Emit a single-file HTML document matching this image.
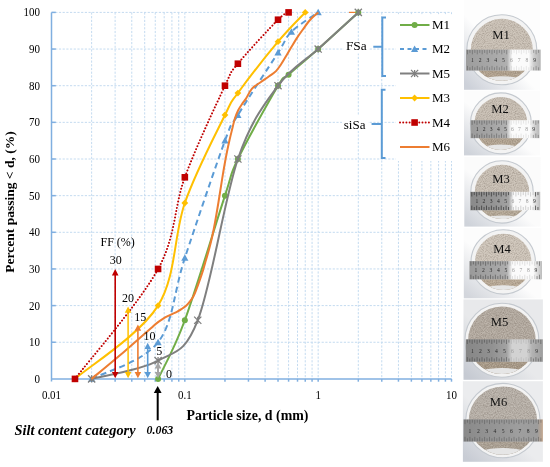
<!DOCTYPE html>
<html><head><meta charset="utf-8"><title>Particle size distribution</title>
<style>html,body{margin:0;padding:0;background:#fff;width:550px;height:467px;overflow:hidden}svg{display:block}</style>
</head><body>
<svg width="550" height="467" viewBox="0 0 550 467">
<defs>
<marker id="ar" viewBox="0 0 10 10" refX="9" refY="5" markerWidth="3.2" markerHeight="3.2" orient="auto-start-reverse"><path d="M0,0 L10,5 L0,10 z" fill="context-stroke"/></marker>
<linearGradient id="rul" x1="0" x2="1" y1="0" y2="0">
<stop offset="0" stop-color="#8d8d8d"/><stop offset="0.35" stop-color="#9a9a9a"/><stop offset="0.55" stop-color="#b4b4b4"/><stop offset="0.62" stop-color="#f4f4f4"/><stop offset="0.85" stop-color="#fafafa"/><stop offset="0.92" stop-color="#c8c8c8"/><stop offset="1" stop-color="#a8a8a8"/></linearGradient>
<linearGradient id="bg" x1="0" x2="0" y1="0" y2="1"><stop offset="0" stop-color="#f6f6f6"/><stop offset="1" stop-color="#dcdcdc"/></linearGradient>
<filter id="grD" x="0" y="0" width="1" height="1" color-interpolation-filters="sRGB"><feTurbulence type="fractalNoise" baseFrequency="0.9" numOctaves="2" seed="7"/><feColorMatrix type="matrix" values="0 0 0 0 0.35  0 0 0 0 0.3  0 0 0 0 0.26  0.7 0 0 0 -0.32"/></filter>
<filter id="grL" x="0" y="0" width="1" height="1" color-interpolation-filters="sRGB"><feTurbulence type="fractalNoise" baseFrequency="0.9" numOctaves="2" seed="7"/><feColorMatrix type="matrix" values="0 0 0 0 1  0 0 0 0 0.98  0 0 0 0 0.95  -0.7 0 0 0 0.32"/></filter>
<radialGradient id="sand" cx="0.5" cy="0.45" r="0.55"><stop offset="0" stop-color="#bdb4a8"/><stop offset="1" stop-color="#aba296"/></radialGradient>
</defs>
<g stroke="#C4DBF0" stroke-width="1" stroke-dasharray="2.2 1.5" fill="none"><line x1="91.64" y1="12.4" x2="91.64" y2="378.9"/><line x1="115.12" y1="12.4" x2="115.12" y2="378.9"/><line x1="131.77" y1="12.4" x2="131.77" y2="378.9"/><line x1="144.7" y1="12.4" x2="144.7" y2="378.9"/><line x1="155.25" y1="12.4" x2="155.25" y2="378.9"/><line x1="164.18" y1="12.4" x2="164.18" y2="378.9"/><line x1="171.91" y1="12.4" x2="171.91" y2="378.9"/><line x1="178.73" y1="12.4" x2="178.73" y2="378.9"/><line x1="184.83" y1="12.4" x2="184.83" y2="378.9"/><line x1="224.97" y1="12.4" x2="224.97" y2="378.9"/><line x1="248.45" y1="12.4" x2="248.45" y2="378.9"/><line x1="265.11" y1="12.4" x2="265.11" y2="378.9"/><line x1="278.03" y1="12.4" x2="278.03" y2="378.9"/><line x1="288.59" y1="12.4" x2="288.59" y2="378.9"/><line x1="297.51" y1="12.4" x2="297.51" y2="378.9"/><line x1="305.24" y1="12.4" x2="305.24" y2="378.9"/><line x1="312.07" y1="12.4" x2="312.07" y2="378.9"/><line x1="318.17" y1="12.4" x2="318.17" y2="378.9"/><line x1="358.3" y1="12.4" x2="358.3" y2="378.9"/><line x1="381.78" y1="12.4" x2="381.78" y2="378.9"/><line x1="398.44" y1="12.4" x2="398.44" y2="378.9"/><line x1="411.36" y1="12.4" x2="411.36" y2="378.9"/><line x1="421.92" y1="12.4" x2="421.92" y2="378.9"/><line x1="430.85" y1="12.4" x2="430.85" y2="378.9"/><line x1="438.58" y1="12.4" x2="438.58" y2="378.9"/><line x1="445.4" y1="12.4" x2="445.4" y2="378.9"/><line x1="451.5" y1="12.4" x2="451.5" y2="378.9"/><line x1="51.5" y1="342.25" x2="451.5" y2="342.25"/><line x1="51.5" y1="305.6" x2="451.5" y2="305.6"/><line x1="51.5" y1="268.95" x2="451.5" y2="268.95"/><line x1="51.5" y1="232.3" x2="451.5" y2="232.3"/><line x1="51.5" y1="195.65" x2="451.5" y2="195.65"/><line x1="51.5" y1="159" x2="451.5" y2="159"/><line x1="51.5" y1="122.35" x2="451.5" y2="122.35"/><line x1="51.5" y1="85.7" x2="451.5" y2="85.7"/><line x1="51.5" y1="49.05" x2="451.5" y2="49.05"/><line x1="51.5" y1="12.4" x2="451.5" y2="12.4"/></g>
<g stroke="#80AFE0" stroke-width="1.5" fill="none"><line x1="51.5" y1="12.4" x2="51.5" y2="381.6"/><line x1="51.5" y1="378.9" x2="451.5" y2="378.9"/><line x1="51.5" y1="342.25" x2="55.8" y2="342.25"/><line x1="51.5" y1="305.6" x2="55.8" y2="305.6"/><line x1="51.5" y1="268.95" x2="55.8" y2="268.95"/><line x1="51.5" y1="232.3" x2="55.8" y2="232.3"/><line x1="51.5" y1="195.65" x2="55.8" y2="195.65"/><line x1="51.5" y1="159" x2="55.8" y2="159"/><line x1="51.5" y1="122.35" x2="55.8" y2="122.35"/><line x1="51.5" y1="85.7" x2="55.8" y2="85.7"/><line x1="51.5" y1="49.05" x2="55.8" y2="49.05"/><line x1="51.5" y1="12.4" x2="55.8" y2="12.4"/><line x1="91.64" y1="378.9" x2="91.64" y2="381.7"/><line x1="115.12" y1="378.9" x2="115.12" y2="381.7"/><line x1="131.77" y1="378.9" x2="131.77" y2="381.7"/><line x1="144.7" y1="378.9" x2="144.7" y2="381.7"/><line x1="155.25" y1="378.9" x2="155.25" y2="381.7"/><line x1="164.18" y1="378.9" x2="164.18" y2="381.7"/><line x1="171.91" y1="378.9" x2="171.91" y2="381.7"/><line x1="178.73" y1="378.9" x2="178.73" y2="381.7"/><line x1="184.83" y1="378.9" x2="184.83" y2="381.7"/><line x1="224.97" y1="378.9" x2="224.97" y2="381.7"/><line x1="248.45" y1="378.9" x2="248.45" y2="381.7"/><line x1="265.11" y1="378.9" x2="265.11" y2="381.7"/><line x1="278.03" y1="378.9" x2="278.03" y2="381.7"/><line x1="288.59" y1="378.9" x2="288.59" y2="381.7"/><line x1="297.51" y1="378.9" x2="297.51" y2="381.7"/><line x1="305.24" y1="378.9" x2="305.24" y2="381.7"/><line x1="312.07" y1="378.9" x2="312.07" y2="381.7"/><line x1="318.17" y1="378.9" x2="318.17" y2="381.7"/><line x1="358.3" y1="378.9" x2="358.3" y2="381.7"/><line x1="381.78" y1="378.9" x2="381.78" y2="381.7"/><line x1="398.44" y1="378.9" x2="398.44" y2="381.7"/><line x1="411.36" y1="378.9" x2="411.36" y2="381.7"/><line x1="421.92" y1="378.9" x2="421.92" y2="381.7"/><line x1="430.85" y1="378.9" x2="430.85" y2="381.7"/><line x1="438.58" y1="378.9" x2="438.58" y2="381.7"/><line x1="445.4" y1="378.9" x2="445.4" y2="381.7"/><line x1="451.5" y1="378.9" x2="451.5" y2="381.7"/></g>
<g font-family="Liberation Serif, serif" font-size="11" fill="#000"><text transform="translate(40,382.8) scale(1,1.12)" text-anchor="end">0</text><text transform="translate(40,346.15) scale(1,1.12)" text-anchor="end">10</text><text transform="translate(40,309.5) scale(1,1.12)" text-anchor="end">20</text><text transform="translate(40,272.85) scale(1,1.12)" text-anchor="end">30</text><text transform="translate(40,236.2) scale(1,1.12)" text-anchor="end">40</text><text transform="translate(40,199.55) scale(1,1.12)" text-anchor="end">50</text><text transform="translate(40,162.9) scale(1,1.12)" text-anchor="end">60</text><text transform="translate(40,126.25) scale(1,1.12)" text-anchor="end">70</text><text transform="translate(40,89.6) scale(1,1.12)" text-anchor="end">80</text><text transform="translate(40,52.95) scale(1,1.12)" text-anchor="end">90</text><text transform="translate(40,16.3) scale(1,1.12)" text-anchor="end">100</text><text transform="translate(51.5,398.8) scale(1,1.12)" text-anchor="middle">0.01</text><text transform="translate(184.83,398.8) scale(1,1.12)" text-anchor="middle">0.1</text><text transform="translate(318.17,398.8) scale(1,1.12)" text-anchor="middle">1</text><text transform="translate(451.5,398.8) scale(1,1.12)" text-anchor="middle">10</text></g>
<text x="247.5" y="419.7" text-anchor="middle" font-family="Liberation Serif, serif" font-size="13.6" font-weight="bold" textLength="122" lengthAdjust="spacingAndGlyphs">Particle size, d (mm)</text>
<text transform="translate(13.6,202) rotate(-90)" text-anchor="middle" font-family="Liberation Serif, serif" font-size="13.5" font-weight="bold">Percent passing &lt; d, (%)</text>
<rect x="396" y="14.2" width="58" height="146.8" fill="#fff"/>
<rect x="344" y="41" width="25" height="12.5" fill="#fff"/><rect x="342" y="116" width="26" height="15" fill="#fff"/>
<line x1="349" y1="12.4" x2="359" y2="12.4" stroke="#ED7D31" stroke-width="1.2"/>
<path d="M158.08,378.9 C162.54,369.13 173.68,350.8 184.83,320.26 C195.98,289.72 216.13,222.53 224.97,195.65 C233.81,168.77 229.05,177.32 237.89,159 C246.73,140.67 269.58,99.75 278.03,85.7 C286.48,71.65 281.9,80.81 288.59,74.7 C295.28,68.6 306.55,59.43 318.17,49.05 C329.79,38.67 351.61,18.51 358.3,12.4" fill="none" stroke="#70AD47" stroke-width="2" stroke-linejoin="round" />
<circle cx="158.08" cy="378.9" r="3.0" fill="#70AD47"/><circle cx="184.83" cy="320.26" r="3.0" fill="#70AD47"/><circle cx="224.97" cy="195.65" r="3.0" fill="#70AD47"/><circle cx="237.89" cy="159" r="3.0" fill="#70AD47"/><circle cx="278.03" cy="85.7" r="3.0" fill="#70AD47"/><circle cx="288.59" cy="74.7" r="3.0" fill="#70AD47"/><circle cx="318.17" cy="49.05" r="3.0" fill="#70AD47"/><circle cx="358.3" cy="12.4" r="3.0" fill="#70AD47"/>
<path d="M91.64,378.9 C102.71,372.79 142.55,362.41 158.08,342.25 C173.61,322.09 173.68,291.55 184.83,257.95 C195.98,224.36 216.13,164.5 224.97,140.67 C233.81,116.85 229.05,129.68 237.89,115.02 C246.73,100.36 269.11,66.58 278.03,52.71 C286.95,38.85 284.72,38.54 291.41,31.82 C298.1,25.11 313.71,15.64 318.17,12.4" fill="none" stroke="#5B9BD5" stroke-width="2" stroke-linejoin="round" stroke-dasharray="6 4"/>
<path d="M91.64,375.3 L95.24,381.78 L88.04,381.78z" fill="#5B9BD5"/><path d="M158.08,338.65 L161.68,345.13 L154.48,345.13z" fill="#5B9BD5"/><path d="M184.83,254.35 L188.43,260.83 L181.23,260.83z" fill="#5B9BD5"/><path d="M224.97,137.07 L228.57,143.55 L221.37,143.55z" fill="#5B9BD5"/><path d="M237.89,111.42 L241.49,117.9 L234.29,117.9z" fill="#5B9BD5"/><path d="M278.03,49.11 L281.63,55.59 L274.43,55.59z" fill="#5B9BD5"/><path d="M291.41,28.22 L295.01,34.7 L287.81,34.7z" fill="#5B9BD5"/><path d="M318.17,8.8 L321.77,15.28 L314.57,15.28z" fill="#5B9BD5"/>
<path d="M91.64,378.9 C102.71,375.85 140.39,370.35 158.08,360.57 C175.76,350.8 184.45,353.86 197.75,320.26 C211.06,286.66 224.51,198.09 237.89,159 C251.27,119.91 264.65,104.02 278.03,85.7 C291.41,67.37 304.79,61.27 318.17,49.05 C331.55,36.83 351.61,18.51 358.3,12.4" fill="none" stroke="#7F7F7F" stroke-width="2" stroke-linejoin="round" />
<path d="M88.04,375.3 L95.24,382.5 M95.24,375.3 L88.04,382.5 M91.64,375.3 L91.64,382.5" stroke="#7F7F7F" stroke-width="1.3" fill="none"/><path d="M154.48,356.97 L161.68,364.18 M161.68,356.97 L154.48,364.18 M158.08,356.97 L158.08,364.18" stroke="#7F7F7F" stroke-width="1.3" fill="none"/><path d="M194.15,316.66 L201.35,323.86 M201.35,316.66 L194.15,323.86 M197.75,316.66 L197.75,323.86" stroke="#7F7F7F" stroke-width="1.3" fill="none"/><path d="M234.29,155.4 L241.49,162.6 M241.49,155.4 L234.29,162.6 M237.89,155.4 L237.89,162.6" stroke="#7F7F7F" stroke-width="1.3" fill="none"/><path d="M274.43,82.1 L281.63,89.3 M281.63,82.1 L274.43,89.3 M278.03,82.1 L278.03,89.3" stroke="#7F7F7F" stroke-width="1.3" fill="none"/><path d="M314.57,45.45 L321.77,52.65 M321.77,45.45 L314.57,52.65 M318.17,45.45 L318.17,52.65" stroke="#7F7F7F" stroke-width="1.3" fill="none"/><path d="M354.7,8.8 L361.9,16 M361.9,8.8 L354.7,16 M358.3,8.8 L358.3,16" stroke="#7F7F7F" stroke-width="1.3" fill="none"/>
<path d="M74.98,378.9 C88.83,366.68 139.77,334.92 158.08,305.6 C176.39,276.28 173.68,234.74 184.83,202.98 C195.98,171.22 216.13,133.34 224.97,115.02 C233.81,96.69 229.05,105.25 237.89,93.03 C246.73,80.81 266.8,55.16 278.03,41.72 C289.25,28.28 300.71,17.29 305.24,12.4" fill="none" stroke="#FFC000" stroke-width="2" stroke-linejoin="round" />
<path d="M74.98,375.5 L78.38,378.9 L74.98,382.3 L71.58,378.9z" fill="#FFC000"/><path d="M158.08,302.2 L161.48,305.6 L158.08,309 L154.68,305.6z" fill="#FFC000"/><path d="M184.83,199.58 L188.23,202.98 L184.83,206.38 L181.43,202.98z" fill="#FFC000"/><path d="M224.97,111.62 L228.37,115.02 L224.97,118.42 L221.57,115.02z" fill="#FFC000"/><path d="M237.89,89.63 L241.29,93.03 L237.89,96.43 L234.49,93.03z" fill="#FFC000"/><path d="M278.03,38.32 L281.43,41.72 L278.03,45.12 L274.63,41.72z" fill="#FFC000"/><path d="M305.24,9 L308.64,12.4 L305.24,15.8 L301.84,12.4z" fill="#FFC000"/>
<path d="M74.98,378.9 C88.83,360.57 139.77,302.55 158.08,268.95 C176.39,235.35 173.68,207.87 184.83,177.32 C195.98,146.78 216.13,104.64 224.97,85.7 C233.81,66.76 229.05,74.7 237.89,63.71 C246.73,52.71 269.58,28.28 278.03,19.73 C286.48,11.18 286.83,13.62 288.59,12.4" fill="none" stroke="#C00000" stroke-width="2" stroke-linejoin="round" stroke-dasharray="0.01 3.25" stroke-linecap="round"/>
<rect x="71.68" y="375.6" width="6.6" height="6.6" fill="#C00000"/><rect x="154.78" y="265.65" width="6.6" height="6.6" fill="#C00000"/><rect x="181.53" y="174.02" width="6.6" height="6.6" fill="#C00000"/><rect x="221.67" y="82.4" width="6.6" height="6.6" fill="#C00000"/><rect x="234.59" y="60.41" width="6.6" height="6.6" fill="#C00000"/><rect x="274.73" y="16.43" width="6.6" height="6.6" fill="#C00000"/><rect x="285.29" y="9.1" width="6.6" height="6.6" fill="#C00000"/>
<path d="M91.6,378.9 C97.17,374.25 115.27,359.3 125,351 C134.73,342.7 145.08,333.43 150,329.1 C154.92,324.77 152.98,326.28 154.5,325 C156.02,323.72 157.58,322.5 159.1,321.4 C160.62,320.3 162.08,319.32 163.6,318.4 C165.12,317.48 166.68,316.67 168.2,315.9 C169.72,315.13 171.18,314.52 172.7,313.8 C174.22,313.08 175.78,312.42 177.3,311.6 C178.82,310.78 180.28,309.92 181.8,308.9 C183.32,307.88 185.03,306.75 186.4,305.5 C187.77,304.25 188.8,302.98 190,301.4 C191.2,299.82 192.57,297.92 193.6,296 C194.63,294.08 195.13,292.67 196.2,289.9 C197.27,287.13 198.87,282.65 200,279.4 C201.13,276.15 202,273.63 203,270.4 C204,267.17 205,263.48 206,260 C207,256.52 208,253.25 209,249.5 C210,245.75 211,242 212,237.5 C213,233 213.92,228.42 215,222.5 C216.08,216.58 217.33,209.12 218.5,202 C219.67,194.88 221,185.97 222,179.8 C223,173.63 223.65,169.75 224.5,165 C225.35,160.25 226.23,155.58 227.1,151.3 C227.97,147.02 228.85,143 229.7,139.3 C230.55,135.6 231.35,132.52 232.2,129.1 C233.05,125.68 233.8,121.93 234.8,118.8 C235.8,115.67 236.92,112.87 238.2,110.3 C239.48,107.73 241.2,105.35 242.5,103.4 C243.8,101.45 244.42,101.07 246,98.6 C247.58,96.13 249.57,91.33 252,88.6 C254.43,85.87 257.75,84.25 260.6,82.2 C263.45,80.15 266.53,78.15 269.1,76.3 C271.67,74.45 274,73.1 276,71.1 C278,69.1 279.38,66.87 281.1,64.3 C282.82,61.73 284.58,58.57 286.3,55.7 C288.02,52.83 289.7,49.95 291.4,47.1 C293.1,44.25 294.65,41.45 296.5,38.6 C298.35,35.75 300.25,33.1 302.5,30 C304.75,26.9 307.37,22.93 310,20 C312.63,17.07 316.92,13.67 318.3,12.4" fill="none" stroke="#ED7D31" stroke-width="2" stroke-linejoin="round" />
<line x1="115.2" y1="372.4" x2="115.2" y2="274.9" stroke="#C00000" stroke-width="1.6"/><path d="M115.2,269.1 L118.5,275.4 L111.9,275.4z M115.2,378.2 L118.5,371.9 L111.9,371.9z" fill="#C00000"/>
<line x1="128.1" y1="372.4" x2="128.1" y2="312.2" stroke="#FFC000" stroke-width="1.5"/><path d="M128.1,306.4 L131.4,312.7 L124.8,312.7z M128.1,378.2 L131.4,371.9 L124.8,371.9z" fill="#FFC000"/>
<line x1="137.9" y1="372.4" x2="137.9" y2="330.22" stroke="#ED7D31" stroke-width="1.6"/><path d="M137.9,324.42 L141.2,330.72 L134.6,330.72z M137.9,378.2 L141.2,371.9 L134.6,371.9z" fill="#ED7D31"/>
<line x1="147.7" y1="372.4" x2="147.7" y2="348.55" stroke="#5B9BD5" stroke-width="1.6"/><path d="M147.7,342.75 L151,349.05 L144.4,349.05z M147.7,378.2 L151,371.9 L144.4,371.9z" fill="#5B9BD5"/>
<line x1="158.0" y1="372.4" x2="158.0" y2="367.88" stroke="#A5A5A5" stroke-width="2"/><path d="M158.0,362.07 L161.3,368.38 L154.7,368.38z M158.0,378.2 L161.3,371.9 L154.7,371.9z" fill="#A5A5A5"/>
<g font-family="Liberation Serif, serif" font-size="12" fill="#000"><text x="117.7" y="245.7" text-anchor="middle">FF (%)</text><text x="115.8" y="264" text-anchor="middle">30</text><text x="127.9" y="301.5" text-anchor="middle">20</text><text x="140.3" y="321" text-anchor="middle">15</text><text x="149.5" y="339.7" text-anchor="middle">10</text><text x="159.2" y="355.3" text-anchor="middle">5</text><text x="169" y="377.8" text-anchor="middle">0</text></g>
<line x1="157.7" y1="420.3" x2="157.7" y2="391" stroke="#000" stroke-width="2"/>
<path d="M157.7,386 L161.6,393 L153.8,393z" fill="#000"/>
<text transform="translate(14.5,434.6) scale(1,1.08)" font-family="Liberation Serif, serif" font-size="13.4" font-weight="bold" font-style="italic" textLength="121" lengthAdjust="spacingAndGlyphs">Silt content category</text>
<text transform="translate(146.6,433.6) scale(1,1.08)" font-family="Liberation Serif, serif" font-size="12.3" font-weight="bold" font-style="italic" textLength="26.6" lengthAdjust="spacingAndGlyphs">0.063</text>
<line x1="400" y1="25" x2="429.5" y2="25" stroke="#70AD47" stroke-width="2" /><circle cx="414.6" cy="25" r="3.0" fill="#70AD47"/><text x="432" y="29.3" font-family="Liberation Serif, serif" font-size="13">M1</text><line x1="400" y1="49" x2="429.5" y2="49" stroke="#5B9BD5" stroke-width="2" stroke-dasharray="4 3.5"/><path d="M414.6,45.4 L418.2,51.88 L411,51.88z" fill="#5B9BD5"/><text x="432" y="53.3" font-family="Liberation Serif, serif" font-size="13">M2</text><line x1="400" y1="73.5" x2="429.5" y2="73.5" stroke="#7F7F7F" stroke-width="2" /><path d="M411,69.9 L418.2,77.1 M418.2,69.9 L411,77.1 M414.6,69.9 L414.6,77.1" stroke="#7F7F7F" stroke-width="1.3" fill="none"/><text x="432" y="77.8" font-family="Liberation Serif, serif" font-size="13">M5</text><line x1="400" y1="98" x2="429.5" y2="98" stroke="#FFC000" stroke-width="2" /><path d="M414.6,94.6 L418,98 L414.6,101.4 L411.2,98z" fill="#FFC000"/><text x="432" y="102.3" font-family="Liberation Serif, serif" font-size="13">M3</text><line x1="400" y1="122.5" x2="429.5" y2="122.5" stroke="#C00000" stroke-width="2" stroke-dasharray="0.01 3.2" stroke-linecap="round"/><rect x="411.3" y="119.2" width="6.6" height="6.6" fill="#C00000"/><text x="432" y="126.8" font-family="Liberation Serif, serif" font-size="13">M4</text><line x1="400" y1="147" x2="429.5" y2="147" stroke="#ED7D31" stroke-width="2" /><text x="432" y="151.3" font-family="Liberation Serif, serif" font-size="13">M6</text>
<path d="M386,17.6 L382.3,17.6 L382.3,76 L386,76 M382.3,46.8 L373.3,46.8" stroke="#5B9BD5" stroke-width="2" fill="none"/>
<path d="M385.5,89.8 L381.8,89.8 L381.8,158 L385.5,158 M381.8,124.1 L371.6,124.1" stroke="#5B9BD5" stroke-width="2" fill="none"/>
<text x="356.3" y="49.8" text-anchor="middle" font-family="Liberation Serif, serif" font-size="13.5" textLength="20.8" lengthAdjust="spacingAndGlyphs">FSa</text>
<text x="354.6" y="129.2" text-anchor="middle" font-family="Liberation Serif, serif" font-size="13">siSa</text>
<defs><linearGradient id="bgM1" x1="0.85" x2="0.1" y1="0.15" y2="1"><stop offset="0" stop-color="#fdfdfd"/><stop offset="0.5" stop-color="#fdfdfd"/><stop offset="1" stop-color="#cdd1d9"/></linearGradient><linearGradient id="rgM1" x1="0" x2="1" y1="0" y2="0"><stop offset="0" stop-color="#9d9d9d"/><stop offset="0.35" stop-color="#a8a8a8"/><stop offset="0.55" stop-color="#b0b0b0"/><stop offset="0.62" stop-color="#fbfbfb"/><stop offset="0.84" stop-color="#fbfbfb"/><stop offset="0.91" stop-color="#cccccc"/><stop offset="1" stop-color="#b4b4b4"/></linearGradient><clipPath id="cpM1"><circle cx="501.8" cy="49.8" r="31"/></clipPath><linearGradient id="bgM2" x1="0.85" x2="0.1" y1="0.15" y2="1"><stop offset="0" stop-color="#fcfcfc"/><stop offset="0.5" stop-color="#fcfcfc"/><stop offset="1" stop-color="#cfd3da"/></linearGradient><linearGradient id="rgM2" x1="0" x2="1" y1="0" y2="0"><stop offset="0" stop-color="#9c9c9c"/><stop offset="0.33" stop-color="#a6a6a6"/><stop offset="0.52" stop-color="#b0b0b0"/><stop offset="0.59" stop-color="#fbfbfb"/><stop offset="0.86" stop-color="#fbfbfb"/><stop offset="0.93" stop-color="#d2d2d2"/><stop offset="1" stop-color="#b8b8b8"/></linearGradient><clipPath id="cpM2"><circle cx="500.9" cy="123.4" r="26.5"/></clipPath><linearGradient id="bgM3" x1="0.85" x2="0.1" y1="0.15" y2="1"><stop offset="0" stop-color="#fbfbfb"/><stop offset="0.5" stop-color="#fbfbfb"/><stop offset="1" stop-color="#cfd3da"/></linearGradient><linearGradient id="rgM3" x1="0" x2="1" y1="0" y2="0"><stop offset="0" stop-color="#8a8a8a"/><stop offset="0.35" stop-color="#959595"/><stop offset="0.55" stop-color="#a4a4a4"/><stop offset="0.62" stop-color="#fafafa"/><stop offset="0.88" stop-color="#fafafa"/><stop offset="0.95" stop-color="#d4d4d4"/><stop offset="1" stop-color="#bcbcbc"/></linearGradient><clipPath id="cpM3"><circle cx="502" cy="191.9" r="27.2"/></clipPath><linearGradient id="bgM4" x1="0.85" x2="0.1" y1="0.15" y2="1"><stop offset="0" stop-color="#fcfcfc"/><stop offset="0.5" stop-color="#fcfcfc"/><stop offset="1" stop-color="#d3d6dc"/></linearGradient><linearGradient id="rgM4" x1="0" x2="1" y1="0" y2="0"><stop offset="0" stop-color="#9a9a9a"/><stop offset="0.33" stop-color="#a4a4a4"/><stop offset="0.52" stop-color="#afafaf"/><stop offset="0.59" stop-color="#fbfbfb"/><stop offset="0.88" stop-color="#fbfbfb"/><stop offset="0.95" stop-color="#d6d6d6"/><stop offset="1" stop-color="#bcbcbc"/></linearGradient><clipPath id="cpM4"><circle cx="503.2" cy="261.9" r="28.2"/></clipPath><linearGradient id="bgM5" x1="0.85" x2="0.1" y1="0.15" y2="1"><stop offset="0" stop-color="#e8e9eb"/><stop offset="0.5" stop-color="#e8e9eb"/><stop offset="1" stop-color="#c6cad2"/></linearGradient><linearGradient id="rgM5" x1="0" x2="1" y1="0" y2="0"><stop offset="0" stop-color="#878787"/><stop offset="0.34" stop-color="#919191"/><stop offset="0.53" stop-color="#a2a2a2"/><stop offset="0.6" stop-color="#d2d2d2"/><stop offset="0.79" stop-color="#d2d2d2"/><stop offset="0.86" stop-color="#b2b2b2"/><stop offset="1" stop-color="#9e9e9e"/></linearGradient><clipPath id="cpM5"><circle cx="501.9" cy="340.2" r="33.8"/></clipPath><linearGradient id="bgM6" x1="0.85" x2="0.1" y1="0.15" y2="1"><stop offset="0" stop-color="#ebecee"/><stop offset="0.5" stop-color="#ebecee"/><stop offset="1" stop-color="#c8ccd4"/></linearGradient><linearGradient id="rgM6" x1="0" x2="1" y1="0" y2="0"><stop offset="0" stop-color="#8a8a8a"/><stop offset="0.4" stop-color="#959595"/><stop offset="0.7" stop-color="#9e9e9e"/><stop offset="0.93" stop-color="#9c9c9c"/><stop offset="1" stop-color="#c4a890"/></linearGradient><clipPath id="cpM6"><circle cx="502.9" cy="420.6" r="34.2"/></clipPath></defs>
<rect x="464" y="0" width="76" height="89.8" fill="url(#bgM1)"/><circle cx="501.8" cy="49.8" r="35" fill="#f3f3f3" stroke="#c4c9cf" stroke-width="1.1"/><g clip-path="url(#cpM1)"><rect x="466.8" y="14.799999999999997" width="70" height="70" fill="#c9c0b5"/><rect x="466.8" y="70.6" width="70" height="14.2" fill="#b2a390"/><rect x="466.8" y="14.799999999999997" width="70" height="70" filter="url(#grD)"/><rect x="466.8" y="14.799999999999997" width="70" height="70" filter="url(#grL)"/><ellipse cx="501.8" cy="84.8" rx="29.75" ry="8.52" fill="#e6e6e6"/></g><rect x="466" y="49.6" width="74.7" height="21" fill="url(#rgM1)"/><path d="M467.5,49.9v4.4M467.5,70.3v-4.4M469.95,49.9v3.0M469.95,70.3v-3.0M472.4,49.9v4.4M472.4,70.3v-4.4M474.85,49.9v3.0M474.85,70.3v-3.0M477.3,49.9v4.4M477.3,70.3v-4.4M479.75,49.9v3.0M479.75,70.3v-3.0M482.2,49.9v4.4M482.2,70.3v-4.4M484.65,49.9v3.0M484.65,70.3v-3.0M487.1,49.9v4.4M487.1,70.3v-4.4M489.55,49.9v3.0M489.55,70.3v-3.0M492,49.9v4.4M492,70.3v-4.4M494.45,49.9v3.0M494.45,70.3v-3.0M496.9,49.9v4.4M496.9,70.3v-4.4M499.35,49.9v3.0M499.35,70.3v-3.0M501.8,49.9v4.4M501.8,70.3v-4.4M504.25,49.9v3.0M504.25,70.3v-3.0M506.7,49.9v4.4M506.7,70.3v-4.4M533.65,49.9v3.0M533.65,70.3v-3.0M536.1,49.9v4.4M536.1,70.3v-4.4M538.55,49.9v3.0M538.55,70.3v-3.0" stroke="#2e2e2e" stroke-opacity="0.35" stroke-width="0.9" fill="none"/><path d="M509.15,49.9v3.0M509.15,70.3v-3.0M511.6,49.9v4.4M511.6,70.3v-4.4M514.05,49.9v3.0M514.05,70.3v-3.0M516.5,49.9v4.4M516.5,70.3v-4.4M518.95,49.9v3.0M518.95,70.3v-3.0M521.4,49.9v4.4M521.4,70.3v-4.4M523.85,49.9v3.0M523.85,70.3v-3.0M526.3,49.9v4.4M526.3,70.3v-4.4M528.75,49.9v3.0M528.75,70.3v-3.0M531.2,49.9v4.4M531.2,70.3v-4.4" stroke="#777" stroke-opacity="0.21" stroke-width="0.7" fill="none"/><g font-family="Liberation Serif, serif" font-size="5.6" text-anchor="middle"><text x="472.5" y="62.1" fill="#2a2a2a">1</text><text x="480.26" y="62.1" fill="#2a2a2a">2</text><text x="488.01" y="62.1" fill="#2a2a2a">3</text><text x="495.77" y="62.1" fill="#2a2a2a">4</text><text x="503.52" y="62.1" fill="#2a2a2a">5</text><text x="511.28" y="62.1" fill="#9a9a9a">6</text><text x="519.03" y="62.1" fill="#9a9a9a">7</text><text x="526.79" y="62.1" fill="#9a9a9a">8</text><text x="534.55" y="62.1" fill="#2a2a2a">9</text></g><text x="501" y="38.6" text-anchor="middle" font-family="Liberation Serif, serif" font-size="12.6" fill="#111">M1</text><rect x="464" y="90.8" width="76" height="64.6" fill="url(#bgM2)"/><circle cx="500.9" cy="123.4" r="30.5" fill="#f3f3f3" stroke="#c4c9cf" stroke-width="1.1"/><g clip-path="url(#cpM2)"><rect x="470.4" y="92.9" width="61.0" height="61.0" fill="#c7beb3"/><rect x="470.4" y="138.2" width="61.0" height="15.7" fill="#b2a492"/><rect x="470.4" y="92.9" width="61.0" height="61.0" filter="url(#grD)"/><rect x="470.4" y="92.9" width="61.0" height="61.0" filter="url(#grL)"/><ellipse cx="500.9" cy="153.9" rx="25.93" ry="9.42" fill="#e6e6e6"/></g><rect x="470.6" y="120.2" width="68.8" height="18" fill="url(#rgM2)"/><path d="M472.1,120.5v4.4M472.1,137.9v-4.4M474.55,120.5v3.0M474.55,137.9v-3.0M477,120.5v4.4M477,137.9v-4.4M479.45,120.5v3.0M479.45,137.9v-3.0M481.9,120.5v4.4M481.9,137.9v-4.4M484.35,120.5v3.0M484.35,137.9v-3.0M486.8,120.5v4.4M486.8,137.9v-4.4M489.25,120.5v3.0M489.25,137.9v-3.0M491.7,120.5v4.4M491.7,137.9v-4.4M494.15,120.5v3.0M494.15,137.9v-3.0M496.6,120.5v4.4M496.6,137.9v-4.4M499.05,120.5v3.0M499.05,137.9v-3.0M501.5,120.5v4.4M501.5,137.9v-4.4M503.95,120.5v3.0M503.95,137.9v-3.0M506.4,120.5v4.4M506.4,137.9v-4.4M533.35,120.5v3.0M533.35,137.9v-3.0M535.8,120.5v4.4M535.8,137.9v-4.4M538.25,120.5v3.0M538.25,137.9v-3.0" stroke="#2e2e2e" stroke-opacity="0.4" stroke-width="0.9" fill="none"/><path d="M508.85,120.5v3.0M508.85,137.9v-3.0M511.3,120.5v4.4M511.3,137.9v-4.4M513.75,120.5v3.0M513.75,137.9v-3.0M516.2,120.5v4.4M516.2,137.9v-4.4M518.65,120.5v3.0M518.65,137.9v-3.0M521.1,120.5v4.4M521.1,137.9v-4.4M523.55,120.5v3.0M523.55,137.9v-3.0M526,120.5v4.4M526,137.9v-4.4M528.45,120.5v3.0M528.45,137.9v-3.0M530.9,120.5v4.4M530.9,137.9v-4.4" stroke="#777" stroke-opacity="0.24" stroke-width="0.7" fill="none"/><g font-family="Liberation Serif, serif" font-size="5.6" text-anchor="middle"><text x="477.1" y="131.2" fill="#2a2a2a">1</text><text x="484.17" y="131.2" fill="#2a2a2a">2</text><text x="491.24" y="131.2" fill="#2a2a2a">3</text><text x="498.31" y="131.2" fill="#2a2a2a">4</text><text x="505.38" y="131.2" fill="#2a2a2a">5</text><text x="512.45" y="131.2" fill="#9a9a9a">6</text><text x="519.52" y="131.2" fill="#9a9a9a">7</text><text x="526.59" y="131.2" fill="#9a9a9a">8</text><text x="533.66" y="131.2" fill="#2a2a2a">9</text></g><text x="500" y="112.6" text-anchor="middle" font-family="Liberation Serif, serif" font-size="12.6" fill="#111">M2</text><rect x="464.3" y="157" width="76.3" height="69.6" fill="url(#bgM3)"/><circle cx="502" cy="191.9" r="31.2" fill="#f3f3f3" stroke="#c4c9cf" stroke-width="1.1"/><g clip-path="url(#cpM3)"><rect x="470.8" y="160.70000000000002" width="62.4" height="62.4" fill="#c8bfb4"/><rect x="470.8" y="210.3" width="62.4" height="12.8" fill="#b4a897"/><rect x="470.8" y="160.70000000000002" width="62.4" height="62.4" filter="url(#grD)"/><rect x="470.8" y="160.70000000000002" width="62.4" height="62.4" filter="url(#grL)"/><ellipse cx="502" cy="223.1" rx="26.52" ry="7.68" fill="#e6e6e6"/></g><rect x="470.3" y="191.8" width="69.9" height="18.5" fill="url(#rgM3)"/><path d="M471.8,192.1v4.4M471.8,210v-4.4M474.25,192.1v3.0M474.25,210v-3.0M476.7,192.1v4.4M476.7,210v-4.4M479.15,192.1v3.0M479.15,210v-3.0M481.6,192.1v4.4M481.6,210v-4.4M484.05,192.1v3.0M484.05,210v-3.0M486.5,192.1v4.4M486.5,210v-4.4M488.95,192.1v3.0M488.95,210v-3.0M491.4,192.1v4.4M491.4,210v-4.4M493.85,192.1v3.0M493.85,210v-3.0M496.3,192.1v4.4M496.3,210v-4.4M498.75,192.1v3.0M498.75,210v-3.0M501.2,192.1v4.4M501.2,210v-4.4M503.65,192.1v3.0M503.65,210v-3.0M506.1,192.1v4.4M506.1,210v-4.4M508.55,192.1v3.0M508.55,210v-3.0M535.5,192.1v4.4M535.5,210v-4.4M537.95,192.1v3.0M537.95,210v-3.0" stroke="#2e2e2e" stroke-opacity="0.75" stroke-width="0.9" fill="none"/><path d="M511,192.1v4.4M511,210v-4.4M513.45,192.1v3.0M513.45,210v-3.0M515.9,192.1v4.4M515.9,210v-4.4M518.35,192.1v3.0M518.35,210v-3.0M520.8,192.1v4.4M520.8,210v-4.4M523.25,192.1v3.0M523.25,210v-3.0M525.7,192.1v4.4M525.7,210v-4.4M528.15,192.1v3.0M528.15,210v-3.0M530.6,192.1v4.4M530.6,210v-4.4M533.05,192.1v3.0M533.05,210v-3.0" stroke="#777" stroke-opacity="0.44999999999999996" stroke-width="0.7" fill="none"/><g font-family="Liberation Serif, serif" font-size="5.6" text-anchor="middle"><text x="476.8" y="203.05" fill="#2a2a2a">1</text><text x="484" y="203.05" fill="#2a2a2a">2</text><text x="491.2" y="203.05" fill="#2a2a2a">3</text><text x="498.39" y="203.05" fill="#2a2a2a">4</text><text x="505.59" y="203.05" fill="#2a2a2a">5</text><text x="512.79" y="203.05" fill="#9a9a9a">6</text><text x="519.99" y="203.05" fill="#9a9a9a">7</text><text x="527.18" y="203.05" fill="#9a9a9a">8</text><text x="534.38" y="203.05" fill="#2a2a2a">9</text></g><text x="501.1" y="183.2" text-anchor="middle" font-family="Liberation Serif, serif" font-size="12.6" fill="#111">M3</text><rect x="463.8" y="228" width="77.6" height="70.3" fill="url(#bgM4)"/><circle cx="503.2" cy="261.9" r="32.2" fill="#f3f3f3" stroke="#c4c9cf" stroke-width="1.1"/><g clip-path="url(#cpM4)"><rect x="471.0" y="229.7" width="64.4" height="64.4" fill="#cdc4b9"/><rect x="471.0" y="279.4" width="64.4" height="14.7" fill="#b8a996"/><rect x="471.0" y="229.7" width="64.4" height="64.4" filter="url(#grD)"/><rect x="471.0" y="229.7" width="64.4" height="64.4" filter="url(#grL)"/><ellipse cx="503.2" cy="294.1" rx="27.37" ry="8.82" fill="#e6e6e6"/></g><rect x="469.4" y="261.1" width="72.6" height="18.3" fill="url(#rgM4)"/><path d="M470.9,261.4v4.4M470.9,279.1v-4.4M473.35,261.4v3.0M473.35,279.1v-3.0M475.8,261.4v4.4M475.8,279.1v-4.4M478.25,261.4v3.0M478.25,279.1v-3.0M480.7,261.4v4.4M480.7,279.1v-4.4M483.15,261.4v3.0M483.15,279.1v-3.0M485.6,261.4v4.4M485.6,279.1v-4.4M488.05,261.4v3.0M488.05,279.1v-3.0M490.5,261.4v4.4M490.5,279.1v-4.4M492.95,261.4v3.0M492.95,279.1v-3.0M495.4,261.4v4.4M495.4,279.1v-4.4M497.85,261.4v3.0M497.85,279.1v-3.0M500.3,261.4v4.4M500.3,279.1v-4.4M502.75,261.4v3.0M502.75,279.1v-3.0M505.2,261.4v4.4M505.2,279.1v-4.4M507.65,261.4v3.0M507.65,279.1v-3.0M537.05,261.4v3.0M537.05,279.1v-3.0M539.5,261.4v4.4M539.5,279.1v-4.4" stroke="#2e2e2e" stroke-opacity="0.5" stroke-width="0.9" fill="none"/><path d="M510.1,261.4v4.4M510.1,279.1v-4.4M512.55,261.4v3.0M512.55,279.1v-3.0M515,261.4v4.4M515,279.1v-4.4M517.45,261.4v3.0M517.45,279.1v-3.0M519.9,261.4v4.4M519.9,279.1v-4.4M522.35,261.4v3.0M522.35,279.1v-3.0M524.8,261.4v4.4M524.8,279.1v-4.4M527.25,261.4v3.0M527.25,279.1v-3.0M529.7,261.4v4.4M529.7,279.1v-4.4M532.15,261.4v3.0M532.15,279.1v-3.0M534.6,261.4v4.4M534.6,279.1v-4.4" stroke="#777" stroke-opacity="0.3" stroke-width="0.7" fill="none"/><g font-family="Liberation Serif, serif" font-size="5.6" text-anchor="middle"><text x="475.9" y="272.25" fill="#2a2a2a">1</text><text x="483.41" y="272.25" fill="#2a2a2a">2</text><text x="490.92" y="272.25" fill="#2a2a2a">3</text><text x="498.43" y="272.25" fill="#2a2a2a">4</text><text x="505.95" y="272.25" fill="#2a2a2a">5</text><text x="513.46" y="272.25" fill="#9a9a9a">6</text><text x="520.97" y="272.25" fill="#9a9a9a">7</text><text x="528.48" y="272.25" fill="#9a9a9a">8</text><text x="535.99" y="272.25" fill="#2a2a2a">9</text></g><text x="502" y="253.4" text-anchor="middle" font-family="Liberation Serif, serif" font-size="12.6" fill="#111">M4</text><rect x="463.5" y="299.4" width="79.4" height="80.4" fill="url(#bgM5)"/><circle cx="501.9" cy="340.2" r="37" fill="#f3f3f3" stroke="#c4c9cf" stroke-width="1.1"/><g clip-path="url(#cpM5)"><rect x="464.9" y="303.2" width="74" height="74" fill="#b3aaa0"/><rect x="464.9" y="361.8" width="74" height="15.4" fill="#a89a88"/><rect x="464.9" y="303.2" width="74" height="74" filter="url(#grD)"/><rect x="464.9" y="303.2" width="74" height="74" filter="url(#grL)"/><ellipse cx="501.9" cy="377.2" rx="31.45" ry="9.24" fill="#e6e6e6"/></g><rect x="465.8" y="339.3" width="77.1" height="22.5" fill="url(#rgM5)"/><path d="M467.3,339.6v4.4M467.3,361.5v-4.4M469.75,339.6v3.0M469.75,361.5v-3.0M472.2,339.6v4.4M472.2,361.5v-4.4M474.65,339.6v3.0M474.65,361.5v-3.0M477.1,339.6v4.4M477.1,361.5v-4.4M479.55,339.6v3.0M479.55,361.5v-3.0M482,339.6v4.4M482,361.5v-4.4M484.45,339.6v3.0M484.45,361.5v-3.0M486.9,339.6v4.4M486.9,361.5v-4.4M489.35,339.6v3.0M489.35,361.5v-3.0M491.8,339.6v4.4M491.8,361.5v-4.4M494.25,339.6v3.0M494.25,361.5v-3.0M496.7,339.6v4.4M496.7,361.5v-4.4M499.15,339.6v3.0M499.15,361.5v-3.0M501.6,339.6v4.4M501.6,361.5v-4.4M504.05,339.6v3.0M504.05,361.5v-3.0M506.5,339.6v4.4M506.5,361.5v-4.4M508.95,339.6v3.0M508.95,361.5v-3.0M531,339.6v4.4M531,361.5v-4.4M533.45,339.6v3.0M533.45,361.5v-3.0M535.9,339.6v4.4M535.9,361.5v-4.4M538.35,339.6v3.0M538.35,361.5v-3.0M540.8,339.6v4.4M540.8,361.5v-4.4" stroke="#2e2e2e" stroke-opacity="0.45" stroke-width="0.9" fill="none"/><path d="M511.4,339.6v4.4M511.4,361.5v-4.4M513.85,339.6v3.0M513.85,361.5v-3.0M516.3,339.6v4.4M516.3,361.5v-4.4M518.75,339.6v3.0M518.75,361.5v-3.0M521.2,339.6v4.4M521.2,361.5v-4.4M523.65,339.6v3.0M523.65,361.5v-3.0M526.1,339.6v4.4M526.1,361.5v-4.4M528.55,339.6v3.0M528.55,361.5v-3.0" stroke="#777" stroke-opacity="0.27" stroke-width="0.7" fill="none"/><g font-family="Liberation Serif, serif" font-size="5.6" text-anchor="middle"><text x="472.3" y="352.55" fill="#2a2a2a">1</text><text x="480.33" y="352.55" fill="#2a2a2a">2</text><text x="488.37" y="352.55" fill="#2a2a2a">3</text><text x="496.4" y="352.55" fill="#2a2a2a">4</text><text x="504.44" y="352.55" fill="#2a2a2a">5</text><text x="512.47" y="352.55" fill="#9a9a9a">6</text><text x="520.51" y="352.55" fill="#9a9a9a">7</text><text x="528.54" y="352.55" fill="#9a9a9a">8</text><text x="536.58" y="352.55" fill="#2a2a2a">9</text></g><text x="499.5" y="326.4" text-anchor="middle" font-family="Liberation Serif, serif" font-size="12.6" fill="#111">M5</text><rect x="462.9" y="381.2" width="80" height="80.6" fill="url(#bgM6)"/><circle cx="502.9" cy="420.6" r="37.2" fill="#f3f3f3" stroke="#c4c9cf" stroke-width="1.1"/><g clip-path="url(#cpM6)"><rect x="465.7" y="383.40000000000003" width="74.4" height="74.4" fill="#b7b0a8"/><rect x="465.7" y="441.6" width="74.4" height="16.2" fill="#aca295"/><rect x="465.7" y="383.40000000000003" width="74.4" height="74.4" filter="url(#grD)"/><rect x="465.7" y="383.40000000000003" width="74.4" height="74.4" filter="url(#grL)"/><ellipse cx="502.9" cy="457.8" rx="31.62" ry="9.72" fill="#e6e6e6"/></g><rect x="463.5" y="419.4" width="79.4" height="22.2" fill="url(#rgM6)"/><path d="M465,419.7v4.4M465,441.3v-4.4M467.45,419.7v3.0M467.45,441.3v-3.0M469.9,419.7v4.4M469.9,441.3v-4.4M472.35,419.7v3.0M472.35,441.3v-3.0M474.8,419.7v4.4M474.8,441.3v-4.4M477.25,419.7v3.0M477.25,441.3v-3.0M479.7,419.7v4.4M479.7,441.3v-4.4M482.15,419.7v3.0M482.15,441.3v-3.0M484.6,419.7v4.4M484.6,441.3v-4.4M487.05,419.7v3.0M487.05,441.3v-3.0M489.5,419.7v4.4M489.5,441.3v-4.4M491.95,419.7v3.0M491.95,441.3v-3.0M494.4,419.7v4.4M494.4,441.3v-4.4M496.85,419.7v3.0M496.85,441.3v-3.0M499.3,419.7v4.4M499.3,441.3v-4.4M501.75,419.7v3.0M501.75,441.3v-3.0M504.2,419.7v4.4M504.2,441.3v-4.4M506.65,419.7v3.0M506.65,441.3v-3.0M509.1,419.7v4.4M509.1,441.3v-4.4M511.55,419.7v3.0M511.55,441.3v-3.0M514,419.7v4.4M514,441.3v-4.4M516.45,419.7v3.0M516.45,441.3v-3.0M518.9,419.7v4.4M518.9,441.3v-4.4M521.35,419.7v3.0M521.35,441.3v-3.0M523.8,419.7v4.4M523.8,441.3v-4.4M526.25,419.7v3.0M526.25,441.3v-3.0M528.7,419.7v4.4M528.7,441.3v-4.4M531.15,419.7v3.0M531.15,441.3v-3.0M533.6,419.7v4.4M533.6,441.3v-4.4M536.05,419.7v3.0M536.05,441.3v-3.0M538.5,419.7v4.4M538.5,441.3v-4.4M540.95,419.7v3.0M540.95,441.3v-3.0" stroke="#2e2e2e" stroke-opacity="0.35" stroke-width="0.9" fill="none"/><g font-family="Liberation Serif, serif" font-size="5.6" text-anchor="middle"><text x="470" y="432.5" fill="#2a2a2a">1</text><text x="478.3" y="432.5" fill="#2a2a2a">2</text><text x="486.6" y="432.5" fill="#2a2a2a">3</text><text x="494.91" y="432.5" fill="#2a2a2a">4</text><text x="503.21" y="432.5" fill="#2a2a2a">5</text><text x="511.51" y="432.5" fill="#2a2a2a">6</text><text x="519.81" y="432.5" fill="#2a2a2a">7</text><text x="528.12" y="432.5" fill="#2a2a2a">8</text><text x="536.42" y="432.5" fill="#2a2a2a">9</text></g><text x="498.5" y="405.9" text-anchor="middle" font-family="Liberation Serif, serif" font-size="12.6" fill="#111">M6</text>
</svg>
</body></html>
